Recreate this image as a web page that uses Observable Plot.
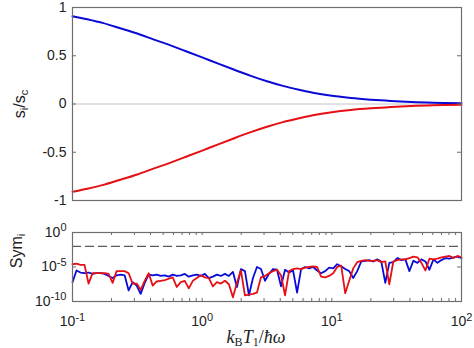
<!DOCTYPE html>
<html>
<head>
<meta charset="utf-8">
<script src="https://cdn.jsdelivr.net/npm/d3@7"></script>
<script src="https://cdn.jsdelivr.net/npm/@observablehq/plot@0.6"></script>
<style>
  html, body { margin: 0; padding: 0; background: #fff; }
  #wrap { position: relative; width: 474px; height: 348px; font-family: "Liberation Sans", Arial, sans-serif; color: #222; }
  #wrap svg { display: block; }
  .ylab { position: absolute; transform: translate(-50%, -50%) rotate(-90deg); white-space: nowrap; font-size: 16px; font-family: "Liberation Sans", Arial, sans-serif; }
  .ylab sub { font-size: 11px; vertical-align: -3px; }
  #xlab { position: absolute; left: 256px; top: 327px; transform: translateX(-50%); white-space: nowrap; font-family: "Liberation Serif", "Times New Roman", serif; font-size: 18px; font-style: italic; }
  #xlab sub { font-size: 12px; font-style: normal; vertical-align: -3px; }
  #xlab .up { font-style: normal; }
</style>
</head>
<body>
<div id="wrap"></div>
<script>
// ---- top panel: s_i / s_c versus k_B T_1 / hbar omega ----
const curveT   = [0.1, 0.13, 0.173, 0.23, 0.316, 0.42, 0.57, 0.75, 1.0, 1.33, 1.75, 2.37, 3.16, 4.2, 5.7, 7.5, 10, 14, 20, 27, 34, 45, 60, 75, 100];
const siBlue   = [0.91, 0.878, 0.838, 0.788, 0.73, 0.67, 0.607, 0.547, 0.483, 0.418, 0.357, 0.292, 0.236, 0.188, 0.146, 0.112, 0.085, 0.062, 0.045, 0.034, 0.026, 0.019, 0.014, 0.011, 0.008];
const siRed    = [-0.91, -0.878, -0.838, -0.788, -0.73, -0.67, -0.607, -0.547, -0.483, -0.418, -0.357, -0.292, -0.236, -0.188, -0.146, -0.112, -0.085, -0.062, -0.045, -0.034, -0.026, -0.019, -0.014, -0.011, -0.008];
const topYTicks = [-1, -0.5, 0, 0.5, 1];

// ---- bottom panel: Sym_i (log10 of value) on a log grid of temperatures ----
const symN = 98;
const symT = d3.range(symN).map(i => 10 ** (-1 + 3 * i / (symN - 1)));
const symBlueExp = [
  -7.2,-5.5,-5.8,-5.9,-5.8,-6.0,-5.9,-5.9,-6.0,-6.3,
  -6.6,-6.2,-6.1,-6.2,-8.4,-7.2,-7.7,-8.9,-7.3,-6.1,
  -6.2,-6.1,-6.3,-6.2,-6.4,-6.1,-6.3,-6.2,-6.0,-6.4,
  -6.2,-6.1,-6.3,-6.0,-6.6,-6.4,-6.1,-6.3,-6.0,-6.3,
  -5.7,-7.9,-5.3,-5.6,-9.1,-6.6,-5.0,-5.3,-7.0,-6.0,
  -5.3,-5.4,-7.8,-5.4,-5.8,-5.5,-8.7,-5.3,-5.0,-5.2,
  -5.0,-5.5,-5.9,-5.6,-5.1,-5.2,-4.6,-4.9,-5.3,-5.6,
  -6.6,-5.6,-4.2,-4.1,-4.0,-4.2,-3.9,-4.2,-7.3,-4.4,
  -4.3,-3.7,-4.0,-3.9,-5.6,-4.1,-4.4,-3.9,-4.2,-5.4,
  -3.9,-4.4,-4.0,-3.7,-3.8,-3.6,-3.5,-3.7
];
const symRedExp = [
  -4.6,-4.5,-4.7,-4.7,-7.4,-5.9,-5.9,-5.9,-5.9,-6.0,
  -7.3,-5.6,-5.6,-5.6,-5.9,-7.4,-7.4,-8.3,-7.0,-5.9,
  -7.7,-7.1,-7.0,-6.9,-6.7,-6.5,-7.9,-7.2,-7.0,-8.1,
  -7.0,-6.6,-6.2,-6.5,-6.6,-7.8,-7.2,-7.4,-7.0,-7.5,
  -9.4,-7.3,-5.5,-9.1,-9.0,-8.9,-8.7,-6.5,-6.3,-5.9,
  -5.6,-5.4,-6.2,-9.1,-5.6,-5.3,-5.2,-5.3,-5.1,-5.0,
  -4.9,-5.0,-6.4,-6.5,-6.3,-5.9,-5.0,-4.8,-8.8,-7.0,
  -5.2,-4.3,-4.1,-4.0,-4.1,-4.1,-4.0,-4.3,-4.2,-7.5,
  -4.2,-4.0,-3.9,-3.9,-3.7,-3.5,-3.6,-4.4,-5.5,-3.8,
  -3.9,-3.8,-3.6,-3.5,-3.4,-3.7,-3.4,-3.6
];
const symThreshold = 1e-2;
const botYTicks = [1e-10, 1e-5, 1];
const botYLabels = ["10^-10", "10^-5", "10^0"];
const botXTicks = [0.1, 1, 10, 100];
const botXLabels = ["10^-1", "10^0", "10^1", "10^2"];
const botXMinor = [0.2,0.3,0.4,0.5,0.6,0.7,0.8,0.9, 2,3,4,5,6,7,8,9, 20,30,40,50,60,70,80,90];

const blue = "#0a0ad8";
const red = "#e60f14";
const frameColor = "#6e6e6e";
const W = 474, ML = 72, MR = 13;
const frameW = W - ML - MR;
const tick = 4;

const topData = curveT.flatMap((t, i) => [
  {t, s: siBlue[i], series: "blue"},
  {t, s: siRed[i], series: "red"}
]);
const botData = symT.flatMap((t, i) => [
  {t, v: 10 ** symBlueExp[i], series: "blue"},
  {t, v: 10 ** symRedExp[i], series: "red"}
]);

const topPlot = Plot.plot({
  width: W, height: 210, marginLeft: ML, marginRight: MR, marginTop: 7, marginBottom: 10,
  style: {fontFamily: "Liberation Sans, Arial, sans-serif", color: "#222", background: "transparent"},
  x: {type: "log", domain: [0.1, 100], axis: null},
  y: {domain: [-1, 1]},
  marks: [
    Plot.ruleY([0], {stroke: "#c4c4c4", strokeWidth: 1}),
    Plot.line(topData.filter(d => d.series === "blue"), {x: "t", y: "s", stroke: blue, strokeWidth: 2, curve: "monotone-x"}),
    Plot.line(topData.filter(d => d.series === "red"), {x: "t", y: "s", stroke: red, strokeWidth: 2, curve: "monotone-x"}),
    Plot.ruleY(topYTicks, {insetRight: frameW - tick, stroke: frameColor}),
    Plot.ruleY(topYTicks, {insetLeft: frameW - tick, stroke: frameColor}),
    Plot.axisY({ticks: topYTicks, tickSize: 0, tickPadding: 6, fontSize: 14, label: null, tickFormat: d => String(d)}),
    Plot.frame({stroke: frameColor, strokeWidth: 1.2})
  ]
});

const botH = 138, botMT = 22, botMB = 47;
const frameH = botH - botMT - botMB;
const botPlot = Plot.plot({
  width: W, height: botH, marginLeft: ML, marginRight: MR, marginTop: botMT, marginBottom: botMB,
  style: {fontFamily: "Liberation Sans, Arial, sans-serif", color: "#222", background: "transparent"},
  x: {type: "log", domain: [0.1, 100]},
  y: {type: "log", domain: [1e-10, 1]},
  marks: [
    Plot.ruleY([symThreshold], {stroke: "#333", strokeDasharray: "9,4", strokeWidth: 1}),
    Plot.line(botData.filter(d => d.series === "blue"), {x: "t", y: "v", stroke: blue, strokeWidth: 1.8}),
    Plot.line(botData.filter(d => d.series === "red"), {x: "t", y: "v", stroke: red, strokeWidth: 1.8}),
    Plot.ruleX(botXMinor.concat(botXTicks), {insetBottom: frameH - 3, stroke: frameColor}),
    Plot.ruleX(botXMinor.concat(botXTicks), {insetTop: frameH - 3, stroke: frameColor}),
    Plot.ruleY(botYTicks, {insetRight: frameW - tick, stroke: frameColor}),
    Plot.ruleY(botYTicks, {insetLeft: frameW - tick, stroke: frameColor}),
    Plot.axisY({ticks: botYTicks, tickSize: 0, tickPadding: 6, fontSize: 14, label: null,
      tickFormat: d => botYLabels[botYTicks.indexOf(d)]}),
    Plot.axisX({ticks: botXTicks, tickSize: 0, tickPadding: 15, fontSize: 14, label: null,
      tickFormat: d => botXLabels[botXTicks.indexOf(d)]}),
    Plot.frame({stroke: frameColor, strokeWidth: 1.2})
  ]
});

// turn "10^e" labels into 10 with a raised exponent
function superscripts(svg) {
  svg.querySelectorAll("text").forEach(t => {
    const m = /^10\^(.+)$/.exec(t.textContent);
    if (!m) return;
    t.textContent = "";
    const ns = "http://www.w3.org/2000/svg";
    const a = document.createElementNS(ns, "tspan");
    a.textContent = "10";
    const b = document.createElementNS(ns, "tspan");
    b.textContent = m[1];
    b.setAttribute("dy", "-0.5em");
    b.setAttribute("font-size", "11px");
    t.appendChild(a); t.appendChild(b);
  });
}
superscripts(botPlot);

const wrap = document.getElementById("wrap");
wrap.appendChild(topPlot);
wrap.appendChild(botPlot);

const yl1 = document.createElement("div");
yl1.className = "ylab";
yl1.style.left = "20px"; yl1.style.top = "104px";
yl1.innerHTML = "s<sub>i</sub>/s<sub>c</sub>";
wrap.appendChild(yl1);

const yl2 = document.createElement("div");
yl2.className = "ylab";
yl2.style.left = "17px"; yl2.style.top = "251px";
yl2.innerHTML = "Sym<sub>i</sub>";
wrap.appendChild(yl2);

const xl = document.createElement("div");
xl.id = "xlab";
xl.innerHTML = "k<sub>B</sub>T<sub>1</sub><span class='up'>/</span>ħω";
wrap.appendChild(xl);
</script>
</body>
</html>
